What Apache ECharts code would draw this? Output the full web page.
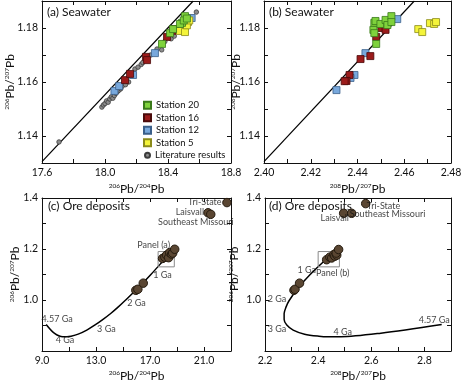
<!DOCTYPE html>
<html><head><meta charset="utf-8">
<script src="https://cdn.jsdelivr.net/npm/echarts@6/dist/echarts.min.js"></script>
<style>html,body{margin:0;padding:0;background:#fff}#c{width:474px;height:383px}</style>
</head><body><div id="c"></div>
<script>
// ---------- DATA ----------
// Panel (a): 206Pb/204Pb vs 206Pb/207Pb
const st20A = [[18.362,1.1741],[18.413,1.1781],[18.432,1.1796],[18.489,1.1819],[18.508,1.1844],[18.476,1.1815],[18.50,1.1828],[18.52,1.1835]];
const st16A = [[18.127,1.1607],[18.159,1.1630],[18.26,1.1693],[18.267,1.1681],[18.394,1.1767],[18.444,1.1796],[18.43,1.1790]];
const st12A = [[18.06,1.1567],[18.09,1.1585],[18.178,1.1626],[18.317,1.1707],[18.55,1.1837]];
const st5A  = [[18.476,1.1789],[18.508,1.1785],[18.527,1.1822],[18.52,1.1810],[18.535,1.1828]];
const litA  = [[17.708,1.1378],[17.98,1.1507],[17.99,1.1515],[18.0,1.1520],[18.01,1.1530],[18.02,1.1525],[18.03,1.1537],[18.04,1.1545],[18.05,1.1540],[18.06,1.1550],[18.07,1.1558],[18.08,1.1565],[18.09,1.1570],[18.10,1.1575],[18.11,1.1585],[18.13,1.1590],[18.15,1.1600],[18.17,1.1630],[18.19,1.1648],[18.21,1.1655],[18.23,1.1665],[18.24,1.1672],[18.26,1.1680],[18.29,1.1700],[18.33,1.1722],[18.36,1.1719],[18.38,1.1750],[18.42,1.1760],[18.44,1.1770],[18.47,1.1790],[18.50,1.1810],[18.52,1.1830],[18.58,1.1859]];
const lineA = [[17.6,1.1305],[18.56,1.19]];
const errA = [0.02, 0.0008];
// Panel (b): 208Pb/207Pb vs 206Pb/207Pb
const st20B = [[2.4472,1.1819],[2.4477,1.1826],[2.4468,1.1793],[2.4472,1.1781],[2.448,1.1741],[2.4498,1.1815],[2.452,1.1830],[2.4528,1.1811],[2.4545,1.1844],[2.4545,1.1822]];
const st16B = [[2.4502,1.1800],[2.452,1.1793],[2.448,1.1767],[2.4413,1.1685],[2.4455,1.1696],[2.4366,1.1626],[2.4353,1.1604],[2.4345,1.1603]];
const st12B = [[2.431,1.157],[2.4387,1.1626],[2.437,1.1615],[2.4434,1.1707],[2.457,1.1833]];
const st5B  = [[2.466,1.1796],[2.4677,1.1785],[2.471,1.1818],[2.4728,1.1815],[2.4736,1.1822]];
const lineB = [[2.40,1.1305],[2.4643,1.19]];
const errB = [0.0012, 0.0008];
// Panels (c),(d): Pb growth curve (ages in Ga)
const curveAge = [4.57,4.3,4.0,3.85,3.7,3.5,3.25,3.0,2.75,2.5,2.25,2.0,1.5,1.0,0.5,0];
const curve64  = [9.307,9.906,10.544,10.851,11.152,11.680,12.317,12.930,13.520,14.088,14.633,15.158,16.149,17.066,17.914,18.699];
const curve67  = [0.904,0.870,0.856,0.856,0.858,0.866,0.882,0.902,0.924,0.947,0.972,0.998,1.049,1.100,1.150,1.197];
const curve87  = [2.865,2.636,2.486,2.437,2.403,2.349,2.306,2.282,2.272,2.272,2.279,2.291,2.326,2.370,2.420,2.472];
const oreC = [[15.95,1.038],[16.1,1.042],[16.5,1.066],[17.93,1.163],[18.1,1.168],[18.23,1.176],[18.38,1.166],[18.46,1.186],[18.6,1.180],[18.68,1.184],[18.83,1.199]];
const oreD = [[2.309,1.038],[2.313,1.042],[2.33,1.066],[2.432,1.158],[2.444,1.168],[2.451,1.165],[2.459,1.178],[2.463,1.172],[2.47,1.176],[2.468,1.184],[2.477,1.198]];
const depositNames = ['Tri-State','Laisvall','Southeast Missouri'];
const deposit64 = [22.7, 21.3, 21.5];
const deposit87 = [2.579, 2.496, 2.526];
const deposit67C = [1.382, 1.342, 1.336];
const deposit67D = [1.378, 1.340, 1.340];
const boxC = [[17.6,1.13],[18.8,1.13],[18.8,1.19],[17.6,1.19],[17.6,1.13]];
const boxD = [[2.40,1.13],[2.48,1.13],[2.48,1.19],[2.40,1.19],[2.40,1.13]];
const labelsC = [['4.57 Ga',10.12,0.925],['4 Ga',10.7,0.842],['3 Ga',13.77,0.887],['2 Ga',16.0,0.986],['1 Ga',17.93,1.097],['Panel (a)',17.27,1.214],['Tri-State',21.06,1.382],['Laisvall',19.95,1.344],['Southeast Missouri',20.4,1.306]];
const labelsD = [['Tri-State',2.646,1.367],['Southeast Missouri',2.661,1.336],['Laisvall',2.4625,1.321],['Panel (b)',2.455,1.104],['1 Ga',2.357,1.119],['2 Ga',2.245,1.005],['3 Ga',2.245,0.887],['4 Ga',2.4925,0.876],['4.57 Ga',2.837,0.922]];
// Tick labels
const xLabA = ['17.6','18.0','18.4','18.8'];
const xLabB = ['2.40','2.42','2.44','2.46','2.48'];
const yLabAB = ['1.14','1.16','1.18'];
const xLabC = ['9.0','13.0','17.0','21.0'];
const xLabD = ['2.2','2.4','2.6','2.8'];
const yLabCD = ['1.0','1.2','1.4'];

// ---------- CHART ----------
const FONT = 'Lato';
const chart = echarts.init(document.getElementById('c'), null, {renderer:'canvas'});
function fmt(labels){ return v => { const m = labels.find(l => Math.abs(parseFloat(l)-v) < 1e-7); return m === undefined ? '' : m; }; }
const rich = { s:{fontSize:6.5, verticalAlign:'top', fontFamily:FONT, color:'#111', lineHeight:8}, n:{fontSize:12, fontFamily:FONT, color:'#111', lineHeight:14} };
function title(a,b){ return '{s|'+a+'}{n|Pb/}{s|'+b+'}{n|Pb}'; }
const axLine = {show:true, lineStyle:{color:'#111', width:1}};
const axTick = {show:true, inside:true, length:4, lineStyle:{color:'#111'}};
const tickFont = {fontSize:10.5, fontFamily:FONT, color:'#111', margin:4, hideOverlap:false, showMinLabel:true, showMaxLabel:true};
function xAxes(grid,min,max,interval,labels,name,gap){
  return [
    {type:'value', gridIndex:grid, min, max, interval, position:'bottom', axisLine:axLine, axisTick:axTick, splitLine:{show:false},
     axisLabel:Object.assign({formatter:fmt(labels)}, tickFont),
     name, nameLocation:'middle', nameGap:gap, nameMoveOverlap:false, nameTextStyle:{rich}},
    {type:'value', gridIndex:grid, min, max, interval, position:'top', axisLine:axLine, axisTick:axTick, splitLine:{show:false}, axisLabel:{show:false}}
  ];
}
function yAxes(grid,min,max,interval,labels,name,gap){
  return [
    {type:'value', gridIndex:grid, min, max, interval, position:'left', axisLine:axLine, axisTick:axTick, splitLine:{show:false},
     axisLabel:Object.assign({formatter:fmt(labels)}, tickFont),
     name, nameLocation:'middle', nameGap:gap, nameRotate:90, nameMoveOverlap:false, nameTextStyle:{rich}},
    {type:'value', gridIndex:grid, min, max, interval, position:'right', axisLine:axLine, axisTick:axTick, splitLine:{show:false}, axisLabel:{show:false}}
  ];
}
const xAxis = [].concat(
  xAxes(0,17.6,18.8,0.2,xLabA,title('206','204'),19),
  xAxes(1,2.40,2.48,0.01,xLabB,title('208','207'),19),
  xAxes(2,9,23,2,xLabC,title('206','204'),18),
  xAxes(3,2.2,2.9,0.1,xLabD,title('208','207'),18)
);
const yAxis = [].concat(
  yAxes(0,1.13,1.19,0.01,yLabAB,title('206','207'),25),
  yAxes(1,1.13,1.19,0.01,yLabAB,title('206','207'),21),
  yAxes(2,0.8,1.4,0.1,yLabCD,title('206','207'),20),
  yAxes(3,0.8,1.4,0.1,yLabCD,title('206','207'),24)
);
const grid = [
  {left:42, top:1, width:189, height:162},
  {left:264, top:1, width:187, height:162},
  {left:42, top:198, width:189, height:158},
  {left:265, top:198, width:186, height:158}
];
const stColors = {'Station 20':['#7fd23c','#3a7a1a'], 'Station 16':['#9b1b1b','#4a0a0a'], 'Station 12':['#78a8dc','#3a5f8a'], 'Station 5':['#f4f43a','#8a8a1a']};
function stSeries(name, data, ax){
  return {type:'scatter', name, xAxisIndex:ax, yAxisIndex:ax, data, symbol:'rect', symbolSize:7, z:5,
    itemStyle:{color:stColors[name][0], borderColor:stColors[name][1], borderWidth:0.8, opacity:1}};
}
function errSeries(data, err, ax){
  return {type:'custom', xAxisIndex:ax, yAxisIndex:ax, z:3, silent:true,
    data: data.map(p => [p[0], p[1], err[0], err[1]]),
    renderItem:(params, api) => {
      const x=api.value(0), y=api.value(1), ex=api.value(2), ey=api.value(3);
      const a=api.coord([x-ex,y]), b=api.coord([x+ex,y]), c=api.coord([x,y-ey]), d=api.coord([x,y+ey]);
      const st={stroke:'#9a9a9a', lineWidth:1};
      return {type:'group', children:[
        {type:'line', shape:{x1:a[0],y1:a[1],x2:b[0],y2:b[1]}, style:st},
        {type:'line', shape:{x1:c[0],y1:c[1],x2:d[0],y2:d[1]}, style:st}]};
    }};
}
function labelSeries(arr, ax){
  return {type:'scatter', xAxisIndex:ax, yAxisIndex:ax, symbolSize:0, z:10, silent:true,
    data: arr.map(l => ({name:l[0], value:[l[1], l[2]]})),
    label:{show:true, position:'inside', formatter:p=>p.name, fontSize:9, fontFamily:FONT, color:'#111'}};
}
const oreStyle = {color:'#5a4632', borderColor:'#241a0e', borderWidth:1, opacity:1};
const series = [
  // (a)
  {type:'line', xAxisIndex:0, yAxisIndex:0, data:lineA, symbol:'none', lineStyle:{color:'#000', width:1.2}, z:2},
  errSeries([].concat(st20A,st16A,st12A,st5A), errA, 0),
  {type:'scatter', name:'Literature results', xAxisIndex:0, yAxisIndex:0, data:litA, symbol:'circle', symbolSize:4.5, z:4,
   itemStyle:{color:'#8c8c8c', borderColor:'#3c3c3c', borderWidth:0.8, opacity:1}},
  stSeries('Station 12', st12A, 0), stSeries('Station 16', st16A, 0), stSeries('Station 5', st5A, 0), stSeries('Station 20', st20A, 0),
  // (b)
  {type:'line', xAxisIndex:1, yAxisIndex:1, data:lineB, symbol:'none', lineStyle:{color:'#000', width:1.2}, z:2},
  errSeries([].concat(st20B,st16B,st12B,st5B), errB, 1),
  stSeries('Station 12', st12B, 1), stSeries('Station 16', st16B, 1), stSeries('Station 5', st5B, 1), stSeries('Station 20', st20B, 1),
  // (c)
  {type:'line', xAxisIndex:2, yAxisIndex:2, data:curve64.map((v,i)=>[v,curve67[i]]), symbol:'none', smooth:0.3, lineStyle:{color:'#000', width:1.5}, z:2},
  {type:'line', xAxisIndex:2, yAxisIndex:2, data:boxC, symbol:'none', lineStyle:{color:'#8a8a8a', width:1}, z:3},
  {type:'scatter', xAxisIndex:2, yAxisIndex:2, data:oreC.concat(deposit64.map((v,i)=>[v,deposit67C[i]])), symbolSize:8.5, itemStyle:oreStyle, z:4},
  labelSeries(labelsC, 2),
  // (d)
  {type:'line', xAxisIndex:3, yAxisIndex:3, data:curve87.map((v,i)=>[v,curve67[i]]), symbol:'none', smooth:0.3, lineStyle:{color:'#000', width:1.5}, z:2},
  {type:'line', xAxisIndex:3, yAxisIndex:3, data:boxD, symbol:'none', lineStyle:{color:'#8a8a8a', width:1}, z:3},
  {type:'scatter', xAxisIndex:3, yAxisIndex:3, data:oreD.concat(deposit87.map((v,i)=>[v,deposit67D[i]])), symbolSize:8.5, itemStyle:oreStyle, z:4},
  labelSeries(labelsD, 3)
];
series.forEach(s => { s.xAxisIndex = s.xAxisIndex*2; s.yAxisIndex = s.yAxisIndex*2; s.animation=false; });
const legendText = {fontSize:9.5, fontFamily:FONT, color:'#111', lineHeight:12.5};
chart.setOption({
  animation:false,
  grid, xAxis, yAxis, series,
  legend:[
    {orient:'vertical', left:138, top:94, itemWidth:7, itemHeight:7, itemGap:0, selectedMode:false, textStyle:legendText,
     data:['Station 20','Station 16','Station 12','Station 5'].map(n=>({name:n, icon:'rect'}))},
    {orient:'vertical', left:139, top:144, itemWidth:5, itemHeight:5, itemGap:0, selectedMode:false, textStyle:legendText,
     data:[{name:'Literature results', icon:'circle'}]}
  ],
  graphic:[
    {type:'text', left:47, top:6, style:{text:'(a) Seawater', font:'12px '+FONT, fill:'#111'}},
    {type:'text', left:269, top:6, style:{text:'(b) Seawater', font:'12px '+FONT, fill:'#111'}},
    {type:'text', left:48, top:200, style:{text:'(c) Ore deposits', font:'12px '+FONT, fill:'#111'}},
    {type:'text', left:269, top:200, style:{text:'(d) Ore deposits', font:'12px '+FONT, fill:'#111'}}
  ]
});
</script></body></html>
